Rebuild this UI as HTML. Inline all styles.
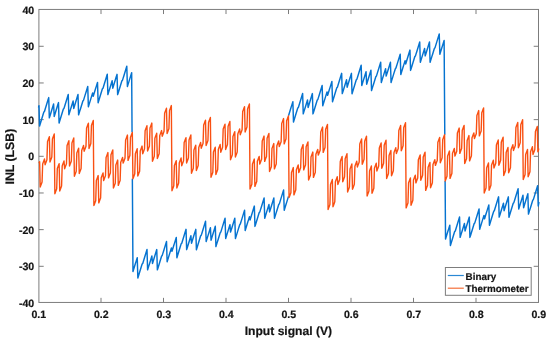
<!DOCTYPE html>
<html><head><meta charset="utf-8"><style>
html,body{margin:0;padding:0;background:#fff;}
svg{display:block;}
text{font-family:"Liberation Sans",Arial,sans-serif;font-weight:bold;fill:#141414;stroke:#141414;stroke-width:0.2px;text-rendering:geometricPrecision;}
</style></head><body>
<svg width="550" height="341" viewBox="0 0 550 341">
<rect width="550" height="341" fill="#fff"/>
<g stroke="#262626" stroke-width="1" fill="none" opacity="0.6">
<rect x="38.9" y="9.44" width="499.60" height="293.01"/>
<line x1="38.9" y1="266.31" x2="43.699999999999996" y2="266.31"/><line x1="538.5" y1="266.31" x2="533.7" y2="266.31"/><line x1="38.9" y1="229.64" x2="43.699999999999996" y2="229.64"/><line x1="538.5" y1="229.64" x2="533.7" y2="229.64"/><line x1="38.9" y1="192.97" x2="43.699999999999996" y2="192.97"/><line x1="538.5" y1="192.97" x2="533.7" y2="192.97"/><line x1="38.9" y1="156.30" x2="43.699999999999996" y2="156.30"/><line x1="538.5" y1="156.30" x2="533.7" y2="156.30"/><line x1="38.9" y1="119.63" x2="43.699999999999996" y2="119.63"/><line x1="538.5" y1="119.63" x2="533.7" y2="119.63"/><line x1="38.9" y1="82.96" x2="43.699999999999996" y2="82.96"/><line x1="538.5" y1="82.96" x2="533.7" y2="82.96"/><line x1="38.9" y1="46.29" x2="43.699999999999996" y2="46.29"/><line x1="538.5" y1="46.29" x2="533.7" y2="46.29"/><line x1="101.00" y1="302.45" x2="101.00" y2="297.84999999999997"/><line x1="101.00" y1="9.44" x2="101.00" y2="14.04"/><line x1="163.50" y1="302.45" x2="163.50" y2="297.84999999999997"/><line x1="163.50" y1="9.44" x2="163.50" y2="14.04"/><line x1="226.00" y1="302.45" x2="226.00" y2="297.84999999999997"/><line x1="226.00" y1="9.44" x2="226.00" y2="14.04"/><line x1="288.50" y1="302.45" x2="288.50" y2="297.84999999999997"/><line x1="288.50" y1="9.44" x2="288.50" y2="14.04"/><line x1="351.00" y1="302.45" x2="351.00" y2="297.84999999999997"/><line x1="351.00" y1="9.44" x2="351.00" y2="14.04"/><line x1="413.50" y1="302.45" x2="413.50" y2="297.84999999999997"/><line x1="413.50" y1="9.44" x2="413.50" y2="14.04"/><line x1="476.00" y1="302.45" x2="476.00" y2="297.84999999999997"/><line x1="476.00" y1="9.44" x2="476.00" y2="14.04"/>
</g>
<defs><clipPath id="c"><rect x="37.6" y="8.2" width="502" height="295.1"/></clipPath></defs>
<g clip-path="url(#c)" fill="none" stroke-linejoin="round">
<g stroke="#0573D0" stroke-width="1.45"><polyline points="38.36,107.64 38.97,105.66 39.58,125.98 40.19,123.99 40.80,122.01 41.41,120.03 42.02,118.05 42.63,116.07 43.23,114.08 43.84,112.10 44.45,111.46 45.06,109.48 45.67,107.50 46.28,105.51 46.89,103.53 47.50,101.55 48.11,99.57 48.72,97.59 49.33,117.90 49.94,115.92 50.55,113.94 51.16,111.96 51.77,109.98 52.38,107.99 52.99,106.01 53.60,104.03 54.21,116.48 54.82,114.49 55.43,112.51 56.04,110.53 56.65,108.55 57.26,106.57 57.87,104.58 58.48,102.60 59.09,122.92 59.70,120.94 60.31,118.96 60.92,116.97 61.53,114.99 62.14,113.01 62.75,111.03 63.36,109.05 63.97,108.40 64.58,106.42 65.19,104.44 65.80,102.46 66.41,100.48 67.02,98.49 67.63,96.51 68.24,94.53 68.85,114.85 69.46,112.87 70.07,110.88 70.68,108.90 71.29,106.92 71.90,104.94 72.51,102.96 73.12,100.97 73.73,108.43 74.34,106.45 74.95,104.47 75.56,102.48 76.17,100.50 76.78,98.52 77.39,96.54 78.00,94.56 78.61,114.87 79.22,112.89 79.83,110.91 80.44,108.93 81.05,106.95 81.66,104.96 82.27,102.98 82.88,101.00 83.49,100.36 84.10,98.38 84.71,96.39 85.32,94.41 85.93,92.43 86.54,90.45 87.15,88.47 87.75,86.48 88.36,106.80 88.97,104.82 89.58,102.84 90.19,100.86 90.80,98.87 91.41,96.89 92.02,94.91 92.63,92.93 93.24,96.26 93.85,94.27 94.46,92.29 95.07,90.31 95.68,88.33 96.29,86.35 96.90,84.36 97.51,82.38 98.12,102.70 98.73,100.72 99.34,98.73 99.95,96.75 100.56,94.77 101.17,92.79 101.78,90.81 102.39,88.82 103.00,88.18 103.61,86.20 104.22,84.22 104.83,82.24 105.44,80.25 106.05,78.27 106.66,76.29 107.27,74.31 107.88,94.63 108.49,92.64 109.10,90.66 109.71,88.68 110.32,86.70 110.93,84.72 111.54,82.73 112.15,80.75 112.76,88.21 113.37,86.23 113.98,84.25 114.59,82.26 115.20,80.28 115.81,78.30 116.42,76.32 117.03,74.34 117.64,94.65 118.25,92.67 118.86,90.69 119.47,88.71 120.08,86.72 120.69,84.74 121.30,82.76 121.91,80.78 122.52,80.14 123.13,78.15 123.74,76.17 124.35,74.19 124.96,72.21 125.57,70.23 126.18,68.24 126.79,66.26 127.40,86.58 128.01,84.60 128.62,82.62 129.23,80.63 129.84,78.65 130.45,76.67 131.06,74.69 131.67,72.71 132.06,132.37"/><polyline points="132.36,178.80 132.97,271.50 133.58,269.52 134.19,267.54 134.80,265.55 135.41,263.57 136.02,261.59 136.63,259.61 137.24,257.63 137.85,277.94 138.46,275.96 139.07,273.98 139.68,272.00 140.29,270.02 140.90,268.03 141.51,266.05 142.12,264.07 142.73,263.43 143.34,261.45 143.95,259.46 144.56,257.48 145.17,255.50 145.78,253.52 146.39,251.53 147.00,249.55 147.61,269.87 148.22,267.89 148.83,265.91 149.44,263.92 150.05,261.94 150.66,259.96 151.27,257.98 151.88,256.00 152.49,263.45 153.10,261.47 153.71,259.49 154.32,257.51 154.93,255.53 155.54,253.54 156.15,251.56 156.76,249.58 157.37,269.90 157.98,267.92 158.59,265.93 159.20,263.95 159.81,261.97 160.42,259.99 161.03,258.01 161.64,256.02 162.25,255.38 162.86,253.40 163.47,251.42 164.08,249.44 164.69,247.45 165.30,245.47 165.91,243.49 166.52,241.51 167.13,261.82 167.74,259.84 168.35,257.86 168.96,255.88 169.57,253.90 170.18,251.91 170.79,249.93 171.40,247.95 172.01,251.28 172.62,249.30 173.23,247.31 173.84,245.33 174.45,243.35 175.06,241.37 175.67,239.39 176.28,237.40 176.89,257.72 177.50,255.74 178.10,253.76 178.71,251.78 179.32,249.79 179.93,247.81 180.54,245.83 181.15,243.85 181.76,243.21 182.37,241.22 182.98,239.24 183.59,237.26 184.20,235.28 184.81,233.30 185.42,231.31 186.03,229.33 186.64,249.65 187.25,247.67 187.86,245.68 188.47,243.70 189.08,241.72 189.69,239.74 190.30,237.76 190.91,235.77 191.52,243.23 192.13,241.25 192.74,239.27 193.35,237.29 193.96,235.30 194.57,233.32 195.18,231.34 195.79,229.36 196.40,249.68 197.01,247.69 197.62,245.71 198.23,243.73 198.84,241.75 199.45,239.77 200.06,237.78 200.67,235.80 201.28,235.16 201.89,233.18 202.50,231.20 203.11,229.21 203.72,227.23 204.33,225.25 204.94,223.27 205.55,221.29 206.16,241.60 206.77,239.62 207.38,237.64 207.99,235.66 208.60,233.68 209.21,231.69 209.82,229.71 210.43,227.73 211.04,240.18 211.65,238.19 212.26,236.21 212.87,234.23 213.48,232.25 214.09,230.27 214.70,228.28 215.31,226.30 215.92,246.62 216.53,244.64 217.14,242.66 217.75,240.67 218.36,238.69 218.97,236.71 219.58,234.73 220.19,232.75 220.80,232.10 221.41,230.12 222.02,228.14 222.62,226.16 223.23,224.18 223.84,222.19 224.45,220.21 225.06,218.23 225.67,238.55 226.28,236.57 226.89,234.58 227.50,232.60 228.11,230.62 228.72,228.64 229.33,226.66 229.94,224.67 230.55,232.13 231.16,230.15 231.77,228.17 232.38,226.18 232.99,224.20 233.60,222.22 234.21,220.24 234.82,218.26 235.43,238.57 236.04,236.59 236.65,234.61 237.26,232.63 237.87,230.65 238.48,228.66 239.09,226.68 239.70,224.70 240.31,224.06 240.92,222.08 241.53,220.09 242.14,218.11 242.75,216.13 243.36,214.15 243.97,212.17 244.58,210.18 245.19,230.50 245.80,228.52 246.41,226.54 247.02,224.56 247.63,222.57 248.24,220.59 248.85,218.61 249.46,216.63 250.07,219.96 250.68,217.97 251.29,215.99 251.90,214.01 252.51,212.03 253.12,210.05 253.73,208.06 254.34,206.08 254.95,226.40 255.56,224.42 256.17,222.43 256.78,220.45 257.39,218.47 258.00,216.49 258.61,214.51 259.22,212.52 259.83,211.88 260.44,209.90 261.05,207.92 261.66,205.94 262.27,203.95 262.88,201.97 263.49,199.99 264.10,198.01 264.71,218.33 265.32,216.34 265.93,214.36 266.54,212.38 267.14,210.40 267.75,208.42 268.36,206.43 268.97,204.45 269.58,211.91 270.19,209.93 270.80,207.95 271.41,205.96 272.02,203.98 272.63,202.00 273.24,200.02 273.85,198.04 274.46,218.35 275.07,216.37 275.68,214.39 276.29,212.41 276.90,210.42 277.51,208.44 278.12,206.46 278.73,204.48 279.34,203.84 279.95,201.85 280.56,199.87 281.17,197.89 281.78,195.91 282.39,193.93 283.00,191.94 283.61,189.96 284.22,210.28 284.83,208.30 285.44,206.32 286.05,204.33 286.66,202.35 287.27,200.37 287.88,198.39 288.49,196.41"/><polyline points="288.60,115.87 288.60,115.50 289.21,113.52 289.82,111.54 290.43,109.55 291.04,107.57 291.65,105.59 292.26,103.61 292.87,101.63 293.48,121.94 294.09,119.96 294.70,117.98 295.31,116.00 295.92,114.02 296.53,112.03 297.14,110.05 297.75,108.07 298.36,107.43 298.97,105.45 299.58,103.46 300.19,101.48 300.80,99.50 301.41,97.52 302.02,95.53 302.63,93.55 303.24,113.87 303.85,111.89 304.46,109.91 305.07,107.92 305.68,105.94 306.29,103.96 306.90,101.98 307.51,100.00 308.12,107.45 308.73,105.47 309.34,103.49 309.95,101.51 310.56,99.53 311.16,97.54 311.77,95.56 312.38,93.58 312.99,113.90 313.60,111.92 314.21,109.93 314.82,107.95 315.43,105.97 316.04,103.99 316.65,102.01 317.26,100.02 317.87,99.38 318.48,97.40 319.09,95.42 319.70,93.44 320.31,91.45 320.92,89.47 321.53,87.49 322.14,85.51 322.75,105.82 323.36,103.84 323.97,101.86 324.58,99.88 325.19,97.90 325.80,95.91 326.41,93.93 327.02,91.95 327.63,95.28 328.24,93.30 328.85,91.31 329.46,89.33 330.07,87.35 330.68,85.37 331.29,83.39 331.90,81.40 332.51,101.72 333.12,99.74 333.73,97.76 334.34,95.78 334.95,93.79 335.56,91.81 336.17,89.83 336.78,87.85 337.39,87.21 338.00,85.22 338.61,83.24 339.22,81.26 339.83,79.28 340.44,77.30 341.05,75.31 341.66,73.33 342.27,93.65 342.88,91.67 343.49,89.68 344.10,87.70 344.71,85.72 345.32,83.74 345.93,81.76 346.54,79.77 347.15,87.23 347.76,85.25 348.37,83.27 348.98,81.29 349.59,79.30 350.20,77.32 350.81,75.34 351.42,73.36 352.03,93.68 352.64,91.69 353.25,89.71 353.86,87.73 354.47,85.75 355.08,83.77 355.68,81.78 356.29,79.80 356.90,79.16 357.51,77.18 358.12,75.20 358.73,73.21 359.34,71.23 359.95,69.25 360.56,67.27 361.17,65.29 361.78,85.60 362.39,83.62 363.00,81.64 363.61,79.66 364.22,77.68 364.83,75.69 365.44,73.71 366.05,71.73 366.66,84.18 367.27,82.19 367.88,80.21 368.49,78.23 369.10,76.25 369.71,74.27 370.32,72.28 370.93,70.30 371.54,90.62 372.15,88.64 372.76,86.66 373.37,84.67 373.98,82.69 374.59,80.71 375.20,78.73 375.81,76.75 376.42,76.10 377.03,74.12 377.64,72.14 378.25,70.16 378.86,68.18 379.47,66.19 380.08,64.21 380.69,62.23 381.30,82.55 381.91,80.57 382.52,78.58 383.13,76.60 383.74,74.62 384.35,72.64 384.96,70.66 385.57,68.67 386.18,76.13 386.79,74.15 387.40,72.17 388.01,70.18 388.62,68.20 389.23,66.22 389.84,64.24 390.45,62.26 391.06,82.57 391.67,80.59 392.28,78.61 392.89,76.63 393.50,74.65 394.11,72.66 394.72,70.68 395.33,68.70 395.94,68.06 396.55,66.08 397.16,64.09 397.77,62.11 398.38,60.13 398.99,58.15 399.60,56.17 400.20,54.18 400.81,74.50 401.42,72.52 402.03,70.54 402.64,68.56 403.25,66.57 403.86,64.59 404.47,62.61 405.08,60.63 405.69,63.96 406.30,61.97 406.91,59.99 407.52,58.01 408.13,56.03 408.74,54.05 409.35,52.06 409.96,50.08 410.57,70.40 411.18,68.42 411.79,66.43 412.40,64.45 413.01,62.47 413.62,60.49 414.23,58.51 414.84,56.52 415.45,55.88 416.06,53.90 416.67,51.92 417.28,49.94 417.89,47.95 418.50,45.97 419.11,43.99 419.72,42.01 420.33,62.33 420.94,60.34 421.55,58.36 422.16,56.38 422.77,54.40 423.38,52.42 423.99,50.43 424.60,48.45 425.21,55.91 425.82,53.93 426.43,51.95 427.04,49.96 427.65,47.98 428.26,46.00 428.87,44.02 429.48,42.04 430.09,62.35 430.70,60.37 431.31,58.39 431.92,56.41 432.53,54.42 433.14,52.44 433.75,50.46 434.36,48.48 434.97,47.84 435.58,45.85 436.19,43.87 436.80,41.89 437.41,39.91 438.02,37.93 438.63,35.94 439.24,33.96 439.85,54.28 440.46,52.30 441.07,50.32 441.68,48.33 442.29,46.35 442.90,44.37 443.51,42.39 444.12,40.41 444.78,134.67"/><polyline points="445.11,181.10 445.53,239.00 446.13,237.02 446.74,235.04 447.35,233.05 447.96,231.07 448.57,229.09 449.18,227.11 449.79,225.13 450.40,245.44 451.01,243.46 451.62,241.48 452.23,239.50 452.84,237.52 453.45,235.53 454.06,233.55 454.67,231.57 455.28,230.93 455.89,228.95 456.50,226.96 457.11,224.98 457.72,223.00 458.33,221.02 458.94,219.03 459.55,217.05 460.16,237.37 460.77,235.39 461.38,233.41 461.99,231.42 462.60,229.44 463.21,227.46 463.82,225.48 464.43,223.50 465.04,230.95 465.65,228.97 466.26,226.99 466.87,225.01 467.48,223.03 468.09,221.04 468.70,219.06 469.31,217.08 469.92,237.40 470.53,235.42 471.14,233.43 471.75,231.45 472.36,229.47 472.97,227.49 473.58,225.51 474.19,223.52 474.80,222.88 475.41,220.90 476.02,218.92 476.63,216.94 477.24,214.95 477.85,212.97 478.46,210.99 479.07,209.01 479.68,229.32 480.29,227.34 480.90,225.36 481.51,223.38 482.12,221.40 482.73,219.41 483.34,217.43 483.95,215.45 484.56,218.78 485.17,216.80 485.78,214.81 486.39,212.83 487.00,210.85 487.61,208.87 488.22,206.89 488.83,204.90 489.44,225.22 490.05,223.24 490.65,221.26 491.26,219.28 491.87,217.29 492.48,215.31 493.09,213.33 493.70,211.35 494.31,210.71 494.92,208.72 495.53,206.74 496.14,204.76 496.75,202.78 497.36,200.80 497.97,198.81 498.58,196.83 499.19,217.15 499.80,215.17 500.41,213.18 501.02,211.20 501.63,209.22 502.24,207.24 502.85,205.26 503.46,203.27 504.07,210.73 504.68,208.75 505.29,206.77 505.90,204.79 506.51,202.80 507.12,200.82 507.73,198.84 508.34,196.86 508.95,217.18 509.56,215.19 510.17,213.21 510.78,211.23 511.39,209.25 512.00,207.27 512.61,205.28 513.22,203.30 513.83,202.66 514.44,200.68 515.05,198.70 515.66,196.71 516.27,194.73 516.88,192.75 517.49,190.77 518.10,188.79 518.71,209.10 519.32,207.12 519.93,205.14 520.54,203.16 521.15,201.18 521.76,199.19 522.37,197.21 522.98,195.23 523.59,207.68 524.20,205.69 524.81,203.71 525.42,201.73 526.03,199.75 526.64,197.77 527.25,195.78 527.86,193.80 528.47,214.12 529.08,212.14 529.69,210.16 530.30,208.17 530.91,206.19 531.52,204.21 532.13,202.23 532.74,200.25 533.35,199.60 533.96,197.62 534.57,195.64 535.17,193.66 535.78,191.68 536.39,189.69 537.00,187.71 537.61,185.73 538.22,206.05 538.83,204.07 539.44,202.08"/></g>
<polyline points="39.01,163.32 39.62,161.67 40.23,187.00 40.84,185.35 41.45,183.71 42.06,182.06 42.67,163.91 43.28,162.27 43.88,160.62 44.49,158.97 45.10,164.70 45.71,163.05 46.32,161.41 46.93,159.76 47.54,141.61 48.15,139.97 48.76,138.32 49.37,136.67 49.98,162.00 50.59,160.35 51.20,158.71 51.81,157.06 52.42,138.91 53.03,137.27 53.64,135.62 54.25,133.97 54.86,193.70 55.47,192.05 56.08,190.41 56.69,188.76 57.30,168.61 57.91,166.97 58.52,165.32 59.13,163.67 59.74,191.00 60.35,189.35 60.96,187.71 61.57,186.06 62.18,165.91 62.79,164.27 63.40,162.62 64.01,160.97 64.62,168.70 65.23,167.05 65.84,165.41 66.45,163.76 67.06,145.61 67.67,143.97 68.28,142.32 68.89,140.67 69.50,166.00 70.11,164.35 70.72,162.71 71.33,161.06 71.94,142.91 72.55,141.27 73.16,139.62 73.77,137.97 74.38,176.20 74.99,174.55 75.60,172.91 76.21,171.26 76.82,153.11 77.43,151.47 78.04,149.82 78.65,148.17 79.26,173.50 79.87,171.85 80.48,170.21 81.09,168.56 81.70,150.41 82.31,148.77 82.92,147.12 83.53,145.47 84.14,151.20 84.75,149.55 85.36,147.91 85.97,146.26 86.58,128.11 87.19,126.47 87.80,124.82 88.40,123.17 89.01,148.50 89.62,146.85 90.23,145.21 90.84,143.56 91.45,125.41 92.06,123.77 92.67,122.12 93.28,120.47 93.89,205.60 94.50,203.95 95.11,202.31 95.72,200.66 96.33,180.51 96.94,178.87 97.55,177.22 98.16,175.57 98.77,202.90 99.38,201.25 99.99,199.61 100.60,197.96 101.21,177.81 101.82,176.17 102.43,174.52 103.04,172.87 103.65,180.60 104.26,178.95 104.87,177.31 105.48,175.66 106.09,157.51 106.70,155.87 107.31,154.22 107.92,152.57 108.53,177.90 109.14,176.25 109.75,174.61 110.36,172.96 110.97,154.81 111.58,153.17 112.19,151.52 112.80,149.87 113.41,188.10 114.02,186.45 114.63,184.81 115.24,183.16 115.85,165.01 116.46,163.37 117.07,161.72 117.68,160.07 118.29,185.40 118.90,183.75 119.51,182.11 120.12,180.46 120.73,162.31 121.34,160.67 121.95,159.02 122.56,157.37 123.17,163.10 123.78,161.45 124.39,159.81 125.00,158.16 125.61,140.01 126.22,138.37 126.83,136.72 127.44,135.07 128.05,160.40 128.66,158.75 129.27,157.11 129.88,155.46 130.49,137.31 131.10,135.67 131.71,134.02 132.32,132.37 132.92,178.80 133.53,177.15 134.14,175.51 134.75,173.86 135.36,153.71 135.97,152.07 136.58,150.42 137.19,148.77 137.80,176.10 138.41,174.45 139.02,172.81 139.63,171.16 140.24,151.01 140.85,149.37 141.46,147.72 142.07,146.07 142.68,153.80 143.29,152.15 143.90,150.51 144.51,148.86 145.12,130.71 145.73,129.07 146.34,127.42 146.95,125.77 147.56,151.10 148.17,149.45 148.78,147.81 149.39,146.16 150.00,128.01 150.61,126.37 151.22,124.72 151.83,123.07 152.44,161.30 153.05,159.65 153.66,158.01 154.27,156.36 154.88,138.21 155.49,136.57 156.10,134.92 156.71,133.27 157.32,158.60 157.93,156.95 158.54,155.31 159.15,153.66 159.76,135.51 160.37,133.87 160.98,132.22 161.59,130.57 162.20,136.30 162.81,134.65 163.42,133.01 164.03,131.36 164.64,113.21 165.25,111.57 165.86,109.92 166.47,108.27 167.08,133.60 167.69,131.95 168.30,130.31 168.91,128.66 169.52,110.51 170.13,108.87 170.74,107.22 171.35,105.57 171.96,190.70 172.57,189.05 173.18,187.41 173.79,185.76 174.40,165.61 175.01,163.97 175.62,162.32 176.23,160.67 176.84,188.00 177.45,186.35 178.05,184.71 178.66,183.06 179.27,162.91 179.88,161.27 180.49,159.62 181.10,157.97 181.71,165.70 182.32,164.05 182.93,162.41 183.54,160.76 184.15,142.61 184.76,140.97 185.37,139.32 185.98,137.67 186.59,163.00 187.20,161.35 187.81,159.71 188.42,158.06 189.03,139.91 189.64,138.27 190.25,136.62 190.86,134.97 191.47,173.20 192.08,171.55 192.69,169.91 193.30,168.26 193.91,150.11 194.52,148.47 195.13,146.82 195.74,145.17 196.35,170.50 196.96,168.85 197.57,167.21 198.18,165.56 198.79,147.41 199.40,145.77 200.01,144.12 200.62,142.47 201.23,148.20 201.84,146.55 202.45,144.91 203.06,143.26 203.67,125.11 204.28,123.47 204.89,121.82 205.50,120.17 206.11,145.50 206.72,143.85 207.33,142.21 207.94,140.56 208.55,122.41 209.16,120.77 209.77,119.12 210.38,117.47 210.99,177.20 211.60,175.55 212.21,173.91 212.82,172.26 213.43,152.11 214.04,150.47 214.65,148.82 215.26,147.17 215.87,174.50 216.48,172.85 217.09,171.21 217.70,169.56 218.31,149.41 218.92,147.77 219.53,146.12 220.14,144.47 220.75,152.20 221.36,150.55 221.97,148.91 222.57,147.26 223.18,129.11 223.79,127.47 224.40,125.82 225.01,124.17 225.62,149.50 226.23,147.85 226.84,146.21 227.45,144.56 228.06,126.41 228.67,124.77 229.28,123.12 229.89,121.47 230.50,159.70 231.11,158.05 231.72,156.41 232.33,154.76 232.94,136.61 233.55,134.97 234.16,133.32 234.77,131.67 235.38,157.00 235.99,155.35 236.60,153.71 237.21,152.06 237.82,133.91 238.43,132.27 239.04,130.62 239.65,128.97 240.26,134.70 240.87,133.05 241.48,131.41 242.09,129.76 242.70,111.61 243.31,109.97 243.92,108.32 244.53,106.67 245.14,132.00 245.75,130.35 246.36,128.71 246.97,127.06 247.58,108.91 248.19,107.27 248.80,105.62 249.41,103.97 250.02,189.10 250.63,187.45 251.24,185.81 251.85,184.16 252.46,164.01 253.07,162.37 253.68,160.72 254.29,159.07 254.90,186.40 255.51,184.75 256.12,183.11 256.73,181.46 257.34,161.31 257.95,159.67 258.56,158.02 259.17,156.37 259.78,164.10 260.39,162.45 261.00,160.81 261.61,159.16 262.22,141.01 262.83,139.37 263.44,137.72 264.05,136.07 264.66,161.40 265.27,159.75 265.88,158.11 266.49,156.46 267.09,138.31 267.70,136.67 268.31,135.02 268.92,133.37 269.53,171.60 270.14,169.95 270.75,168.31 271.36,166.66 271.97,148.51 272.58,146.87 273.19,145.22 273.80,143.57 274.41,168.90 275.02,167.25 275.63,165.61 276.24,163.96 276.85,145.81 277.46,144.17 278.07,142.52 278.68,140.87 279.29,146.60 279.90,144.95 280.51,143.31 281.12,141.66 281.73,123.51 282.34,121.87 282.95,120.22 283.56,118.57 284.17,143.90 284.78,142.25 285.39,140.61 286.00,138.96 286.61,120.81 287.22,119.17 287.83,117.52 288.44,115.87 289.05,197.60 289.66,195.95 290.27,194.31 290.88,192.66 291.49,172.51 292.10,170.87 292.71,169.22 293.32,167.57 293.93,194.90 294.54,193.25 295.15,191.61 295.76,189.96 296.37,169.81 296.98,168.17 297.59,166.52 298.20,164.87 298.81,172.60 299.42,170.95 300.03,169.31 300.64,167.66 301.25,149.51 301.86,147.87 302.47,146.22 303.08,144.57 303.69,169.90 304.30,168.25 304.91,166.61 305.52,164.96 306.13,146.81 306.74,145.17 307.35,143.52 307.96,141.87 308.57,180.10 309.18,178.45 309.79,176.81 310.40,175.16 311.01,157.01 311.61,155.37 312.22,153.72 312.83,152.07 313.44,177.40 314.05,175.75 314.66,174.11 315.27,172.46 315.88,154.31 316.49,152.67 317.10,151.02 317.71,149.37 318.32,155.10 318.93,153.45 319.54,151.81 320.15,150.16 320.76,132.01 321.37,130.37 321.98,128.72 322.59,127.07 323.20,152.40 323.81,150.75 324.42,149.11 325.03,147.46 325.64,129.31 326.25,127.67 326.86,126.02 327.47,124.37 328.08,209.50 328.69,207.85 329.30,206.21 329.91,204.56 330.52,184.41 331.13,182.77 331.74,181.12 332.35,179.47 332.96,206.80 333.57,205.15 334.18,203.51 334.79,201.86 335.40,181.71 336.01,180.07 336.62,178.42 337.23,176.77 337.84,184.50 338.45,182.85 339.06,181.21 339.67,179.56 340.28,161.41 340.89,159.77 341.50,158.12 342.11,156.47 342.72,181.80 343.33,180.15 343.94,178.51 344.55,176.86 345.16,158.71 345.77,157.07 346.38,155.42 346.99,153.77 347.60,192.00 348.21,190.35 348.82,188.71 349.43,187.06 350.04,168.91 350.65,167.27 351.26,165.62 351.87,163.97 352.48,189.30 353.09,187.65 353.70,186.01 354.31,184.36 354.92,166.21 355.53,164.57 356.13,162.92 356.74,161.27 357.35,167.00 357.96,165.35 358.57,163.71 359.18,162.06 359.79,143.91 360.40,142.27 361.01,140.62 361.62,138.97 362.23,164.30 362.84,162.65 363.45,161.01 364.06,159.36 364.67,141.21 365.28,139.57 365.89,137.92 366.50,136.27 367.11,196.00 367.72,194.35 368.33,192.71 368.94,191.06 369.55,170.91 370.16,169.27 370.77,167.62 371.38,165.97 371.99,193.30 372.60,191.65 373.21,190.01 373.82,188.36 374.43,168.21 375.04,166.57 375.65,164.92 376.26,163.27 376.87,171.00 377.48,169.35 378.09,167.71 378.70,166.06 379.31,147.91 379.92,146.27 380.53,144.62 381.14,142.97 381.75,168.30 382.36,166.65 382.97,165.01 383.58,163.36 384.19,145.21 384.80,143.57 385.41,141.92 386.02,140.27 386.63,178.50 387.24,176.85 387.85,175.21 388.46,173.56 389.07,155.41 389.68,153.77 390.29,152.12 390.90,150.47 391.51,175.80 392.12,174.15 392.73,172.51 393.34,170.86 393.95,152.71 394.56,151.07 395.17,149.42 395.78,147.77 396.39,153.50 397.00,151.85 397.61,150.21 398.22,148.56 398.83,130.41 399.44,128.77 400.05,127.12 400.65,125.47 401.26,150.80 401.87,149.15 402.48,147.51 403.09,145.86 403.70,127.71 404.31,126.07 404.92,124.42 405.53,122.77 406.14,207.90 406.75,206.25 407.36,204.61 407.97,202.96 408.58,182.81 409.19,181.17 409.80,179.52 410.41,177.87 411.02,205.20 411.63,203.55 412.24,201.91 412.85,200.26 413.46,180.11 414.07,178.47 414.68,176.82 415.29,175.17 415.90,182.90 416.51,181.25 417.12,179.61 417.73,177.96 418.34,159.81 418.95,158.17 419.56,156.52 420.17,154.87 420.78,180.20 421.39,178.55 422.00,176.91 422.61,175.26 423.22,157.11 423.83,155.47 424.44,153.82 425.05,152.17 425.66,190.40 426.27,188.75 426.88,187.11 427.49,185.46 428.10,167.31 428.71,165.67 429.32,164.02 429.93,162.37 430.54,187.70 431.15,186.05 431.76,184.41 432.37,182.76 432.98,164.61 433.59,162.97 434.20,161.32 434.81,159.67 435.42,165.40 436.03,163.75 436.64,162.11 437.25,160.46 437.86,142.31 438.47,140.67 439.08,139.02 439.69,137.37 440.30,162.70 440.91,161.05 441.52,159.41 442.13,157.76 442.74,139.61 443.35,137.97 443.96,136.32 444.57,134.67 445.18,181.10 445.78,179.45 446.39,177.81 447.00,176.16 447.61,156.01 448.22,154.37 448.83,152.72 449.44,151.07 450.05,178.40 450.66,176.75 451.27,175.11 451.88,173.46 452.49,153.31 453.10,151.67 453.71,150.02 454.32,148.37 454.93,156.10 455.54,154.45 456.15,152.81 456.76,151.16 457.37,133.01 457.98,131.37 458.59,129.72 459.20,128.07 459.81,153.40 460.42,151.75 461.03,150.11 461.64,148.46 462.25,130.31 462.86,128.67 463.47,127.02 464.08,125.37 464.69,163.60 465.30,161.95 465.91,160.31 466.52,158.66 467.13,140.51 467.74,138.87 468.35,137.22 468.96,135.57 469.57,160.90 470.18,159.25 470.79,157.61 471.40,155.96 472.01,137.81 472.62,136.17 473.23,134.52 473.84,132.87 474.45,138.60 475.06,136.95 475.67,135.31 476.28,133.66 476.89,115.51 477.50,113.87 478.11,112.22 478.72,110.57 479.33,135.90 479.94,134.25 480.55,132.61 481.16,130.96 481.77,112.81 482.38,111.17 482.99,109.52 483.60,107.87 484.21,193.00 484.82,191.35 485.43,189.71 486.04,188.06 486.65,167.91 487.26,166.27 487.87,164.62 488.48,162.97 489.09,190.30 489.70,188.65 490.30,187.01 490.91,185.36 491.52,165.21 492.13,163.57 492.74,161.92 493.35,160.27 493.96,168.00 494.57,166.35 495.18,164.71 495.79,163.06 496.40,144.91 497.01,143.27 497.62,141.62 498.23,139.97 498.84,165.30 499.45,163.65 500.06,162.01 500.67,160.36 501.28,142.21 501.89,140.57 502.50,138.92 503.11,137.27 503.72,175.50 504.33,173.85 504.94,172.21 505.55,170.56 506.16,152.41 506.77,150.77 507.38,149.12 507.99,147.47 508.60,172.80 509.21,171.15 509.82,169.51 510.43,167.86 511.04,149.71 511.65,148.07 512.26,146.42 512.87,144.77 513.48,150.50 514.09,148.85 514.70,147.21 515.31,145.56 515.92,127.41 516.53,125.77 517.14,124.12 517.75,122.47 518.36,147.80 518.97,146.15 519.58,144.51 520.19,142.86 520.80,124.71 521.41,123.07 522.02,121.42 522.63,119.77 523.24,179.50 523.85,177.85 524.46,176.21 525.07,174.56 525.68,154.41 526.29,152.77 526.90,151.12 527.51,149.47 528.12,176.80 528.73,175.15 529.34,173.51 529.95,171.86 530.56,151.71 531.17,150.07 531.78,148.42 532.39,146.77 533.00,154.50 533.61,152.85 534.22,151.21 534.82,149.56 535.43,131.41 536.04,129.77 536.65,128.12 537.26,126.47 537.87,151.80 538.48,150.15 539.09,148.51" stroke="#F95012" stroke-width="1.4"/>
</g>
<g font-size="10.6">
<text x="34.2" y="307.08" text-anchor="end">-40</text><text x="34.2" y="270.41" text-anchor="end">-30</text><text x="34.2" y="233.74" text-anchor="end">-20</text><text x="34.2" y="197.07" text-anchor="end">-10</text><text x="34.2" y="160.40" text-anchor="end">0</text><text x="34.2" y="123.73" text-anchor="end">10</text><text x="34.2" y="87.06" text-anchor="end">20</text><text x="34.2" y="50.39" text-anchor="end">30</text><text x="34.2" y="13.72" text-anchor="end">40</text>
<text x="38.80" y="318.4" text-anchor="middle">0.1</text><text x="101.30" y="318.4" text-anchor="middle">0.2</text><text x="163.80" y="318.4" text-anchor="middle">0.3</text><text x="226.30" y="318.4" text-anchor="middle">0.4</text><text x="288.80" y="318.4" text-anchor="middle">0.5</text><text x="351.30" y="318.4" text-anchor="middle">0.6</text><text x="413.80" y="318.4" text-anchor="middle">0.7</text><text x="476.30" y="318.4" text-anchor="middle">0.8</text><text x="538.80" y="318.4" text-anchor="middle">0.9</text>
</g>
<text x="288.4" y="334.6" text-anchor="middle" font-size="12.1">Input signal (V)</text>
<text transform="translate(14.1,156.6) rotate(-90)" text-anchor="middle" font-size="12.3">INL (LSB)</text>
<rect x="445.4" y="267.5" width="85.8" height="27.8" fill="#fff" stroke="#262626" stroke-width="1" stroke-opacity="0.6"/>
<line x1="447.8" y1="275.5" x2="463.8" y2="275.5" stroke="#2a88d4" stroke-width="1.2"/>
<line x1="447.8" y1="288.2" x2="463.8" y2="288.2" stroke="#f4703a" stroke-width="1.2"/>
<text x="465.6" y="279.5" font-size="9.85">Binary</text>
<text x="465.6" y="292.1" font-size="9.85">Thermometer</text>
</svg>
</body></html>
